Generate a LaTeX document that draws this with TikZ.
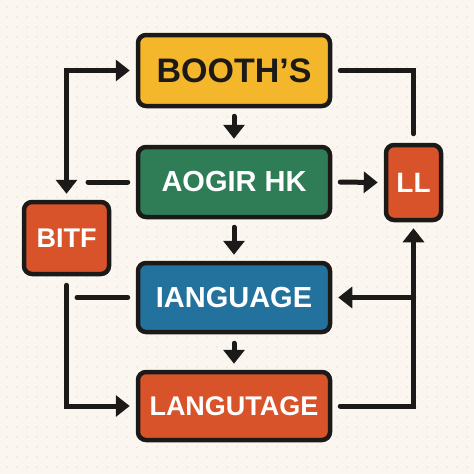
\documentclass[tikz,border=0pt]{standalone}
\usepackage{fontspec}
\setmainfont{Liberation Sans}
\usetikzlibrary{arrows.meta}

\definecolor{paper}{HTML}{FBF6EF}
\definecolor{dotgray}{HTML}{EAE1D6}
\definecolor{ink}{HTML}{1C1A19}
\definecolor{boxyellow}{HTML}{F4B62B}
\definecolor{boxgreen}{HTML}{2E7D57}
\definecolor{boxblue}{HTML}{23729E}
\definecolor{boxorange}{HTML}{D8522A}

\begin{document}
\begin{tikzpicture}[x=1pt, y=-1pt, >={Triangle[length=14pt, width=21pt]},
  box/.style={draw=ink, line width=4.5pt, rounded corners=8pt, inner sep=0pt, text=white, font=\bfseries},
  link/.style={draw=ink, line width=5pt, line cap=round},
]

\fill [paper] (0,0) rectangle (474,474);
\useasboundingbox (0,0) rectangle (474,474);

\foreach \i in {0,1,...,46}
{
  \foreach \j in {0,1,...,46}
    \fill [dotgray] (7+10*\i, 7+10*\j) circle (0.8pt);
}

\node (booths) [box, fill=boxyellow, text=ink, minimum width=192pt, minimum height=71pt, font=\fontsize{34}{34}\selectfont\bfseries] at (234, 70.5) {BOOTH'S};
\node (aogir) [box, fill=boxgreen, minimum width=192pt, minimum height=70pt, font=\fontsize{29}{29}\selectfont\bfseries] at (234, 182) {AOGIR HK};
\node (ianguage) [box, fill=boxblue, minimum width=192pt, minimum height=69pt, font=\fontsize{29}{29}\selectfont\bfseries] at (234, 297.5) {IANGUAGE};
\node (langutage) [box, fill=boxorange, minimum width=192pt, minimum height=68pt, font=\fontsize{27}{27}\selectfont\bfseries] at (234, 406) {LANGUTAGE};
\node (bitf) [box, fill=boxorange, minimum width=85pt, minimum height=72pt, font=\fontsize{27}{27}\selectfont\bfseries] at (66.5, 238) {BITF};
\node (ll) [box, fill=boxorange, minimum width=55pt, minimum height=75pt, font=\fontsize{28}{28}\selectfont\bfseries] at (413.5, 182.5) {LL};

\draw [link, ->, shorten <=8pt, shorten >=6pt] (booths) -- (aogir);
\draw [link, ->, shorten <=8pt, shorten >=6pt] (aogir) -- (ianguage);
\draw [link, ->, shorten <=9pt, shorten >=6pt] (ianguage) -- (langutage);

\draw [link, <->, shorten <=6pt, shorten >=6pt] (bitf.north) |- (booths.west);
\draw [link, ->, shorten <=9pt, shorten >=6pt] (bitf.south) |- (langutage.west);

\coordinate (lstubA) at (88, 182);
\coordinate (lstubB) at (77, 297.5);
\draw [link, shorten <=8pt] (aogir.west) -- (lstubA);
\draw [link, shorten <=8pt] (ianguage.west) -- (lstubB);

\draw [link, shorten <=8pt, shorten >=9pt] (booths.east) -| (ll.north);
\draw [link, ->, shorten <=8pt, shorten >=6pt] (aogir.east) -- (ll.west);
\draw [link, ->, shorten <=8pt, shorten >=6pt] (langutage.east) -| (ll.south);

\coordinate (rjoin) at (ll.south |- ianguage.east);
\draw [link, ->, shorten >=6pt] (rjoin) -- (ianguage.east);

\end{tikzpicture}
\end{document}
